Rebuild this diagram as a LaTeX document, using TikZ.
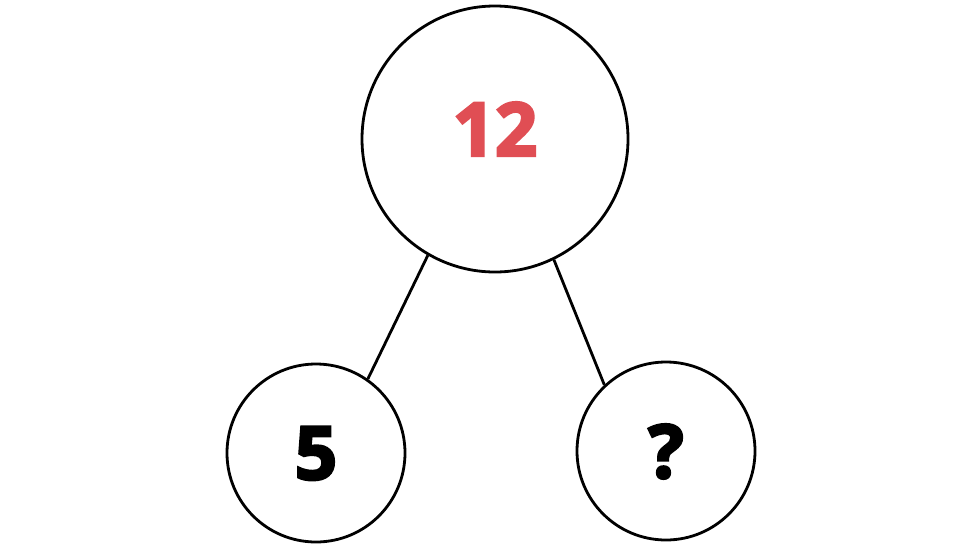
\documentclass[tikz,border=0pt]{standalone}
\usepackage{fontspec}
\setmainfont{Open Sans}
\newfontfamily\heavy[BoldFeatures={FakeBold=3.5}]{Open Sans}
\definecolor{numred}{RGB}{224,78,84}
\begin{document}
\begin{tikzpicture}[x=1pt,y=-1pt,
  bubble/.style={circle,draw=black,line width=2.8pt,inner sep=0pt,fill=white},
  num/.style={font=\fontsize{74}{74}\heavy\bfseries,inner sep=0pt,text depth=0pt},
  link/.style={line width=2.8pt}]
\useasboundingbox (0,0) rectangle (976,549);
\node[bubble,minimum size=266pt] (top) at (495,139) {};
\node[num,text=numred] (toptext) at ([yshift=10pt]top.center) {12};
\node[bubble,minimum size=178pt,num] (left) at (316,453) {5};
\node[bubble,minimum size=178pt,num] (right) at (666,451) {?};
\draw[link] (top.240) -- (left.55);
\draw[link] (top.296) -- (right.133);
\end{tikzpicture}
\end{document}
